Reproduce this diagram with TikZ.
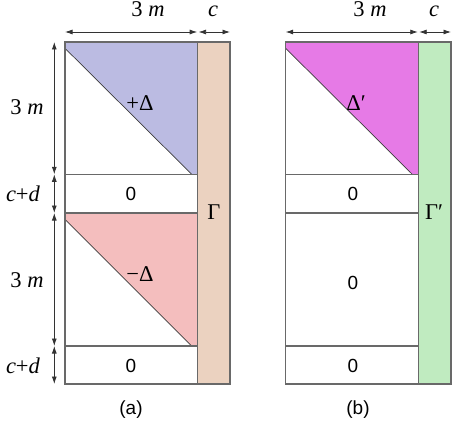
\documentclass[tikz,border=0pt]{standalone}
\usepackage{fontspec}
\usetikzlibrary{arrows.meta}
\newfontfamily\dserif{Liberation Serif}
\newfontfamily\dsans{Liberation Sans}
\definecolor{frame}{RGB}{105,105,105}
\definecolor{diag}{RGB}{60,60,60}
\definecolor{bluec}{RGB}{187,187,226}
\definecolor{pinkc}{RGB}{244,190,190}
\definecolor{tanc}{RGB}{235,210,192}
\definecolor{magc}{RGB}{230,122,230}
\definecolor{greenc}{RGB}{192,235,192}
\tikzset{
  box/.style={draw=frame, line width=1.2pt},
  diagline/.style={draw=diag, line width=0.7pt},
  dim/.style={{Latex[length=7.5pt,width=5pt]}-{Latex[length=7.5pt,width=5pt]}, line width=0.8pt, draw=black!80},
  slab/.style={inner sep=0pt, font=\dserif\fontsize{22.5}{26}\selectfont},
  sanslab/.style={inner sep=0pt, font=\dsans\fontsize{19}{23}\selectfont},
}
\begin{document}
\begin{tikzpicture}[x=1pt,y=-1pt]
\useasboundingbox (0,0) rectangle (474,444);
% ---------- panel (a) ----------
\fill[tanc] (197.7,42) rectangle (230,384);
\fill[bluec] (65,42) -- (197.7,42) -- (197.7,174.3) -- (191.7,174.3) -- (65,48.3) -- cycle;
\fill[pinkc] (65,213) -- (197.7,213) -- (197.7,346) -- (191.7,346) -- (65,219.3) -- cycle;
\draw[diagline] (65,48.3) -- (191.7,174.3);
\draw[diagline] (65,219.3) -- (191.7,346);
\draw[box] (65,174.3) -- (197.7,174.3);
\draw[box] (65,213) -- (197.7,213);
\draw[box] (65,346) -- (197.7,346);
\draw[box] (65,42) rectangle (197.7,384);
\draw[box] (197.7,42) rectangle (230,384);
% dimension coordinates
\coordinate (at0) at (65,32);
\coordinate (at1) at (197.2,32);
\coordinate (at2) at (198.6,32);
\coordinate (at3) at (230,32);
\coordinate (av0) at (54.3,42);
\coordinate (av1) at (54.3,174.3);
\coordinate (av2) at (54.3,213);
\coordinate (av3) at (54.3,346);
\coordinate (av4) at (54.3,384);
\draw[dim] (at0) -- (at1);
\draw[dim] (at2) -- (at3);
\draw[dim] (av0) -- (av1);
\draw[dim] (av1) -- (av2);
\draw[dim] (av2) -- (av3);
\draw[dim] (av3) -- (av4);
\node[slab, anchor=base] (atm) at (148,17) {3 \textit{m}};
\node[slab, anchor=base] (atc) at (213,17) {\textit{c}};
\node[slab] (al1) at (27,107) {3 \textit{m}};
\node[slab] (al2) at (23,194) {\textit{c}+\textit{d}};
\node[slab] (al3) at (27,280) {3 \textit{m}};
\node[slab] (al4) at (23,366) {\textit{c}+\textit{d}};
\node[slab] (apd) at (140,103) {+Δ};
\node[slab] (amd) at (140,274) {−Δ};
\node[sanslab] (az1) at (131,194) {0};
\node[sanslab] (az2) at (131,366) {0};
\node[slab] (agam) at (214,212) {Γ};
\node[sanslab] (acap) at (131,410) {(a)};
% ---------- panel (b) ----------
\fill[greenc] (418.3,42) rectangle (451,384);
\fill[magc] (285.7,42) -- (418.3,42) -- (418.3,174.3) -- (412.3,174.3) -- (285.7,48.3) -- cycle;
\draw[diagline] (285.7,48.3) -- (412.3,174.3);
\draw[box] (285.7,174.3) -- (418.3,174.3);
\draw[box] (285.7,213) -- (418.3,213);
\draw[box] (285.7,346) -- (418.3,346);
\draw[box] (285.7,42) rectangle (418.3,384);
\draw[box] (418.3,42) rectangle (451,384);
\coordinate (bt0) at (285.7,32);
\coordinate (bt1) at (417.8,32);
\coordinate (bt2) at (419.2,32);
\coordinate (bt3) at (451,32);
\draw[dim] (bt0) -- (bt1);
\draw[dim] (bt2) -- (bt3);
\node[slab, anchor=base] (btm) at (370,17) {3 \textit{m}};
\node[slab, anchor=base] (btc) at (434,17) {\textit{c}};
\node[slab] (bdel) at (356,103) {Δ′};
\node[sanslab] (bz1) at (353,194) {0};
\node[sanslab] (bz2) at (353,283) {0};
\node[sanslab] (bz3) at (353,366) {0};
\node[slab] (bgam) at (434,212) {Γ′};
\node[sanslab] (bcap) at (358,410) {(b)};
\end{tikzpicture}
\end{document}
